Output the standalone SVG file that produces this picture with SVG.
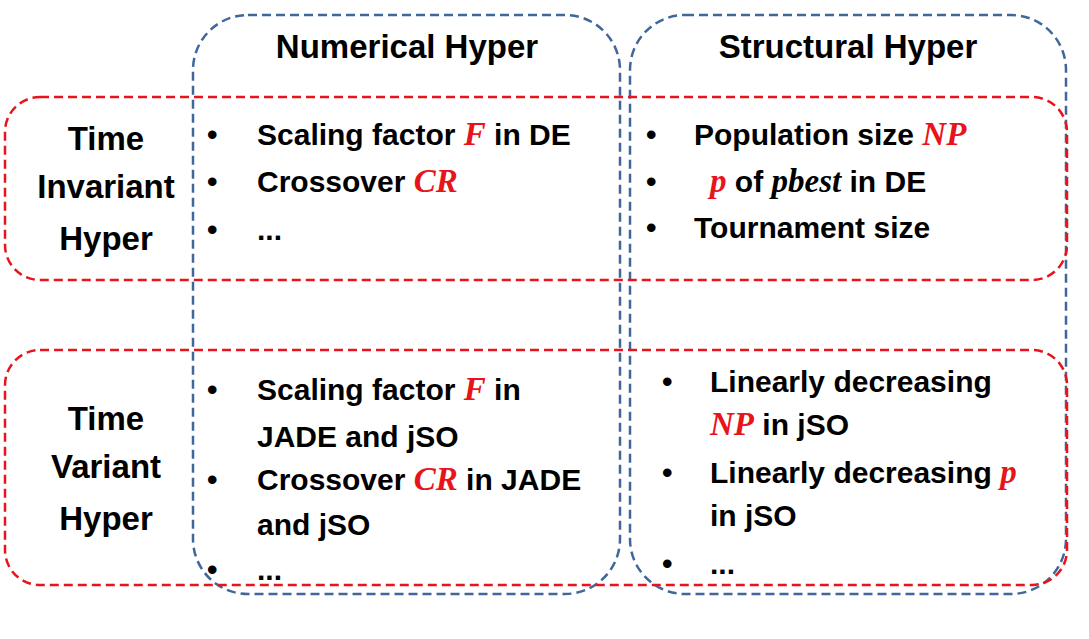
<svg xmlns="http://www.w3.org/2000/svg" width="1089" height="639" viewBox="0 0 1089 639">
<style>
text{font-family:"Liberation Sans",Arial,sans-serif;font-weight:bold;font-size:30px;fill:#000}
.h{font-size:33px}
.m{font-family:"Liberation Serif","Times New Roman",serif;font-style:italic;fill:#e8141b;font-size:33px}
.c{text-anchor:middle}
.b{fill:none;stroke:#41679a;stroke-width:2.5;stroke-dasharray:9 5}
.r{fill:none;stroke:#e8141b;stroke-width:2.5;stroke-dasharray:9 5}
</style>
<rect width="1089" height="639" fill="#fff"/>
<g id="col-numerical"><rect class="b" x="193" y="15" width="427" height="579" rx="55"/><text class="c h" x="407" y="58">Numerical Hyper</text></g>
<g id="col-structural"><rect class="b" x="630" y="15" width="436" height="579" rx="55"/><text class="c h" x="848" y="58">Structural Hyper</text></g>
<g id="row-invariant"><rect class="r" x="5" y="97" width="1062" height="183" rx="35"/>
<text class="c h" x="106" y="150">Time</text><text class="c h" x="106" y="198">Invariant</text><text class="c h" x="106" y="250">Hyper</text></g>
<g id="row-variant"><rect class="r" x="5" y="350" width="1062" height="235" rx="35"/>
<text class="c h" x="106" y="430">Time</text><text class="c h" x="106" y="478">Variant</text><text class="c h" x="106" y="530">Hyper</text></g>
<g id="cell-1">
<text x="207" y="145">•</text><text x="257" y="145">Scaling factor <tspan class="m">F</tspan> in DE</text>
<text x="207" y="192">•</text><text x="257" y="192">Crossover <tspan class="m">CR</tspan></text>
<text x="207" y="240">•</text><text x="257" y="240">...</text></g>
<g id="cell-2">
<text x="646" y="145">•</text><text x="694" y="145">Population size <tspan class="m">NP</tspan></text>
<text x="646" y="192">•</text><text x="710" y="192"><tspan class="m">p</tspan> of <tspan class="m" style="fill:#000">pbest</tspan> in DE</text>
<text x="646" y="238">•</text><text x="694" y="238">Tournament size</text></g>
<g id="cell-3">
<text x="207" y="400">•</text><text x="257" y="400">Scaling factor <tspan class="m">F</tspan> in</text>
<text x="257" y="447">JADE and jSO</text>
<text x="207" y="490">•</text><text x="257" y="490">Crossover <tspan class="m">CR</tspan> in JADE</text>
<text x="257" y="535">and jSO</text>
<text x="207" y="580">•</text><text x="257" y="580">...</text></g>
<g id="cell-4">
<text x="662" y="392">•</text><text x="710" y="392">Linearly decreasing</text>
<text x="710" y="435"><tspan class="m">NP</tspan> in jSO</text>
<text x="662" y="483">•</text><text x="710" y="483">Linearly decreasing <tspan class="m">p</tspan></text>
<text x="710" y="526">in jSO</text>
<text x="662" y="574">•</text><text x="710" y="574">...</text></g>
<g id="connectors"/>
</svg>
